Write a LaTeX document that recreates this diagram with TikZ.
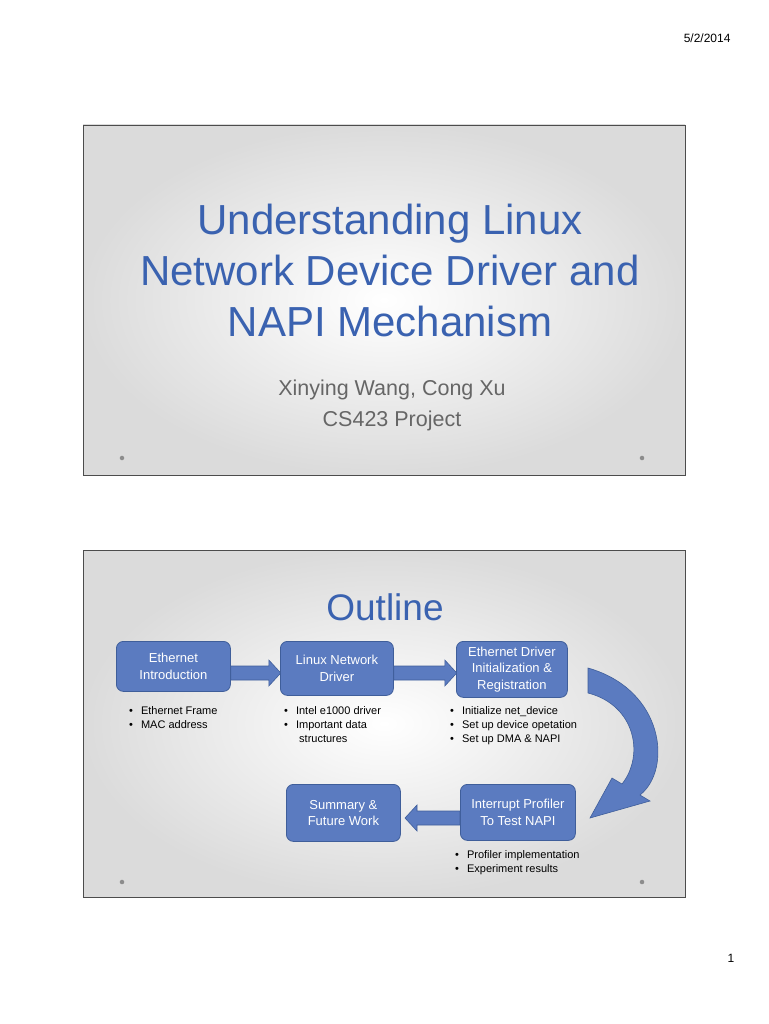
\documentclass[tikz,border=0pt]{standalone}
\usepackage{fontspec}
\setmainfont{Liberation Sans}
\definecolor{boxf}{HTML}{5B7BC0}
\definecolor{boxd}{HTML}{3F5E9A}
\definecolor{ttl}{HTML}{3A62B0}
\begin{document}
\begin{tikzpicture}[x=1pt,y=-1pt,
  slide/.style={draw=black!70,line width=0.8pt,inner color=white,outer color=black!14},
  blk/.style={draw=boxd,fill=boxf,rounded corners=7pt,line width=0.8pt,text=white,align=center,font=\fontsize{13}{16.5}\selectfont,anchor=north west,inner sep=0pt},
  barr/.style={draw=boxd,fill=boxf,line width=0.6pt},
  bul/.style={anchor=north west,align=left,font=\fontsize{11}{14}\selectfont,inner sep=0pt},
  dot/.style={circle,fill=black!45,inner sep=1.6pt}]
\useasboundingbox (0,0) rectangle (768,1024);
\fill[white] (0,0) rectangle (768,1024);
\node[anchor=east,font=\fontsize{12}{14}\selectfont] (date) at (734,38) {5/2/2014};
\node[font=\fontsize{12}{14}\selectfont] (pg) at (731,958) {1};
% slide 1
\draw[slide] (83,125) rectangle (685,475);
\node[text=ttl,align=center,font=\fontsize{42}{51}\selectfont] (t1) at (390,270) {Understanding Linux\\Network Device Driver and\\NAPI Mechanism};
\node[text=black!60,align=center,font=\fontsize{21.5}{31}\selectfont] (a1) at (392,405) {Xinying Wang, Cong Xu\\CS423 Project};
\node[dot] (d1) at (122,458) {}; \node[dot] (d2) at (642,458) {};
% slide 2
\draw[slide] (83,550) rectangle (685,897);
\node[text=ttl,font=\fontsize{37}{40}\selectfont] (t2) at (385,607) {Outline};
\node[blk,minimum width=114pt,minimum height=50pt] (b1) at (116,641) {Ethernet\\Introduction};
\node[blk,minimum width=113pt,minimum height=54pt] (b2) at (280,641) {Linux Network\\Driver};
\node[blk,minimum width=111pt,minimum height=56pt] (b3) at (456,641) {Ethernet Driver\\Initialization \&\\Registration};
\node[blk,minimum width=115pt,minimum height=56pt] (b4) at (460,784) {Interrupt Profiler\\To Test NAPI};
\node[blk,minimum width=114pt,minimum height=57pt] (b5) at (286,784) {Summary \&\\Future Work};
\draw[barr] (b1.east|-0,666) -- ++(38,0) -- ++(0,-6) -- ++(12,13) -- ++(-12,13) -- ++(0,-6) -- ++(-38,0) -- cycle;
\draw[barr] (b2.east|-0,666) -- ++(51,0) -- ++(0,-6) -- ++(12,13) -- ++(-12,13) -- ++(0,-6) -- ++(-51,0) -- cycle;
\draw[barr] (b4.west|-0,811) -- ++(-43,0) -- ++(0,-6) -- ++(-12,13) -- ++(12,13) -- ++(0,-6) -- ++(43,0) -- cycle;
\fill[boxf,draw=boxd,line width=0.6pt] (588,668) .. controls (665,690) and (672,770) .. (640,795)
  -- (650,801) -- (590,818) -- (612,778) -- (622,784) .. controls (645,755) and (635,705) .. (588,693) -- cycle;
\node[bul] (l1) at (129,706) {•\hspace{8pt}Ethernet Frame\\•\hspace{8pt}MAC address};
\node[bul] (l2) at (284,706) {•\hspace{8pt}Intel e1000 driver\\•\hspace{8pt}Important data\\\hspace{15pt}structures};
\node[bul] (l3) at (450,706) {•\hspace{8pt}Initialize net\_device\\•\hspace{8pt}Set up device opetation\\•\hspace{8pt}Set up DMA \& NAPI};
\node[bul] (l4) at (455,850) {•\hspace{8pt}Profiler implementation\\•\hspace{8pt}Experiment results};
\node[dot] (d3) at (122,882) {}; \node[dot] (d4) at (642,882) {};
\end{tikzpicture}
\end{document}
